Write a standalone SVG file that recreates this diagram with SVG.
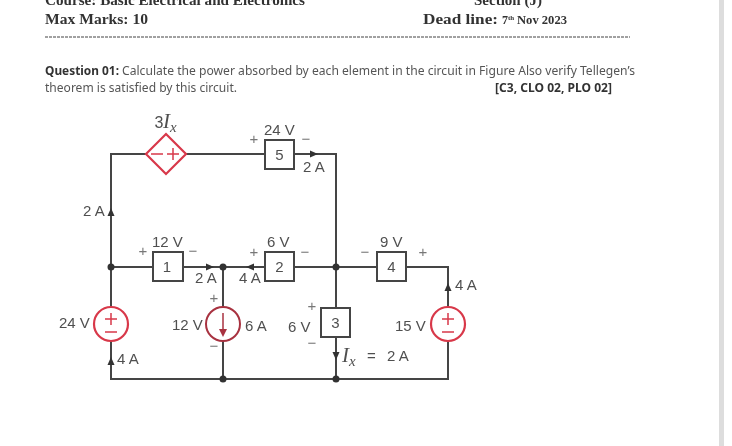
<svg xmlns="http://www.w3.org/2000/svg" width="732" height="446" viewBox="0 0 732 446">
<style>
.w{fill:none;stroke:#444;stroke-width:2}
.b{fill:#fff;stroke:#444;stroke-width:2}
.l{font-family:"Liberation Sans",Arial,sans-serif;font-size:15px;fill:#505050}
.p{font-family:"Liberation Sans",Arial,sans-serif;font-size:15px;fill:#777;text-anchor:middle}
.n{font-family:"Liberation Sans",Arial,sans-serif;font-size:15px;fill:#505050;text-anchor:middle}
.m{stroke:#d8394a;stroke-width:1.5;fill:none}
.h{font-family:"Liberation Serif","Times New Roman",serif;font-weight:bold;font-size:15px;fill:#333}
.q{font-family:"Noto Sans",sans-serif;font-size:12.5px;fill:#555}
.qb{font-family:"Noto Sans",sans-serif;font-size:12.5px;font-weight:bold;fill:#333}
.s{fill:#fff;stroke:#d8394a;stroke-width:2.2}
.i{font-family:"Liberation Serif",serif;font-style:italic;fill:#505050}
</style>
<defs>
<marker id="a" viewBox="0 0 8 8" refX="4" refY="4" markerWidth="8" markerHeight="8" markerUnits="userSpaceOnUse" orient="auto"><path d="M0 0.500L8 4L0 7.500Z" fill="#333"/></marker>
<filter id="blur" x="0" y="0" width="1" height="1"><feGaussianBlur stdDeviation="0.4"/></filter>
</defs>
<rect width="732" height="446" fill="#fff"/>
<rect x="719" y="0" width="5" height="446" fill="#ddd"/>
<g filter="url(#blur)">
<g id="header">
<text class="h" x="45" y="5" textLength="260" lengthAdjust="spacingAndGlyphs">Course: Basic Electrical and Electronics</text>
<text class="h" x="474" y="5" textLength="68" lengthAdjust="spacingAndGlyphs">Section (J)</text>
<text class="h" x="45" y="24" textLength="103" lengthAdjust="spacingAndGlyphs">Max Marks:  10</text>
<text class="h" x="423" y="24" textLength="75" lengthAdjust="spacingAndGlyphs">Dead line:</text>
<text class="h" x="502" y="24" style="font-size:12px">7</text>
<text class="h" x="508" y="20" style="font-size:7px">th</text>
<text class="h" x="517" y="24" textLength="50" lengthAdjust="spacingAndGlyphs" style="font-size:12.500px">Nov 2023</text>
<line x1="45" y1="37" x2="630" y2="37" stroke="#444" stroke-width="1" stroke-dasharray="3 1"/>
</g>
<g id="question">
<text class="qb" x="45" y="75" textLength="74" lengthAdjust="spacingAndGlyphs">Question 01:</text>
<text class="q" x="122" y="75" textLength="513" lengthAdjust="spacingAndGlyphs">Calculate the power absorbed by each element in the circuit in Figure Also verify Tellegen’s</text>
<text class="q" x="45" y="92" textLength="192" lengthAdjust="spacingAndGlyphs">theorem is satisfied by this circuit.</text>
<text class="qb" x="495" y="92" textLength="117" lengthAdjust="spacingAndGlyphs">[C3, CLO 02, PLO 02]</text>
</g>
<g id="connectors">
<path class="w" d="M111 267V154H146M186 154H265M294 154H336V379M111 267V307M111 341V379H448V341M111 267H153M183 267H265M294 267H377M406 267H448V307M223 267V307M223 341V379M336 337V379M336 267V308"/>
<path class="w" d="M111 216V212" marker-end="url(#a)"/>
<path class="w" d="M206 267H210" marker-end="url(#a)"/>
<path class="w" d="M254 267H250" marker-end="url(#a)"/>
<path class="w" d="M310 154H314" marker-end="url(#a)"/>
<path class="w" d="M111 365V361" marker-end="url(#a)"/>
<path class="w" d="M448 291V287" marker-end="url(#a)"/>
<path class="w" d="M336 352V356" marker-end="url(#a)"/>
<circle cx="111" cy="267" r="3.500" fill="#333"/>
<circle cx="223" cy="267" r="3.500" fill="#333"/>
<circle cx="336" cy="267" r="3.500" fill="#333"/>
<circle cx="223" cy="379" r="3.500" fill="#333"/>
<circle cx="336" cy="379" r="3.500" fill="#333"/>
</g>
<g id="dep-source">
<path class="s" d="M166 134L186 154L166 174L146 154Z"/>
<path class="m" d="M151 154H163M167 154H179M173 148V160"/>
<text class="n" x="159" y="128" style="font-size:16px">3</text>
<text class="i" x="163" y="128" style="font-size:21px">I</text>
<text class="i" x="170" y="132" style="font-size:15px">x</text>
</g>
<g id="element-5">
<rect class="b" x="265" y="140" width="29" height="29"/>
<text class="n" x="279.500" y="160">5</text>
<text class="l" x="264" y="135">24 V</text>
<text class="p" x="254" y="144">+</text>
<text class="p" x="306" y="144">−</text>
<text class="l" x="303" y="172">2 A</text>
</g>
<g id="element-1">
<rect class="b" x="153" y="252" width="30" height="29"/>
<text class="n" x="167" y="272">1</text>
<text class="l" x="152" y="247">12 V</text>
<text class="p" x="143" y="256">+</text>
<text class="p" x="193" y="256">−</text>
<text class="l" x="195" y="283">2 A</text>
</g>
<g id="element-2">
<rect class="b" x="265" y="252" width="29" height="29"/>
<text class="n" x="279.500" y="272">2</text>
<text class="l" x="267" y="247">6 V</text>
<text class="p" x="254" y="257">+</text>
<text class="p" x="305" y="257">−</text>
<text class="l" x="239" y="283">4 A</text>
</g>
<g id="element-4">
<rect class="b" x="377" y="252" width="29" height="29"/>
<text class="n" x="391.500" y="272">4</text>
<text class="l" x="380" y="247">9 V</text>
<text class="p" x="365" y="257">−</text>
<text class="p" x="423" y="257">+</text>
<text class="l" x="455" y="290">4 A</text>
</g>
<g id="element-3">
<rect class="b" x="321" y="308" width="29" height="29"/>
<text class="n" x="335.500" y="328">3</text>
<text class="l" x="288" y="332">6 V</text>
<text class="p" x="312" y="311">+</text>
<text class="p" x="312" y="348">−</text>
<text class="i" x="342" y="362" style="font-size:21px">I</text>
<text class="i" x="349" y="366" style="font-size:15px">x</text>
<text class="l" x="367" y="361">=</text>
<text class="l" x="387" y="361">2 A</text>
</g>
<g id="source-24v">
<circle class="s" cx="111" cy="324" r="17"/>
<path class="m" d="M105 319H117M111 313V325M105 332H117"/>
<text class="l" x="59" y="328">24 V</text>
<text class="l" x="117" y="364">4 A</text>
<text class="l" x="83" y="216">2 A</text>
</g>
<g id="source-12v">
<circle class="b" cx="223" cy="324" r="17" style="stroke:#a83240;stroke-width:2"/>
<path d="M223 313V330" stroke="#a83240" stroke-width="1.500" fill="none"/>
<path d="M219 329H227L223 337Z" fill="#a83240"/>
<text class="l" x="172" y="330">12 V</text>
<text class="l" x="245" y="331">6 A</text>
<text class="p" x="214" y="303">+</text>
<text class="p" x="214" y="351">−</text>
</g>
<g id="source-15v">
<circle class="s" cx="448" cy="324" r="17"/>
<path class="m" d="M442 319H454M448 313V325M442 332H454"/>
<text class="l" x="395" y="331">15 V</text>
</g>
</g>
</svg>
